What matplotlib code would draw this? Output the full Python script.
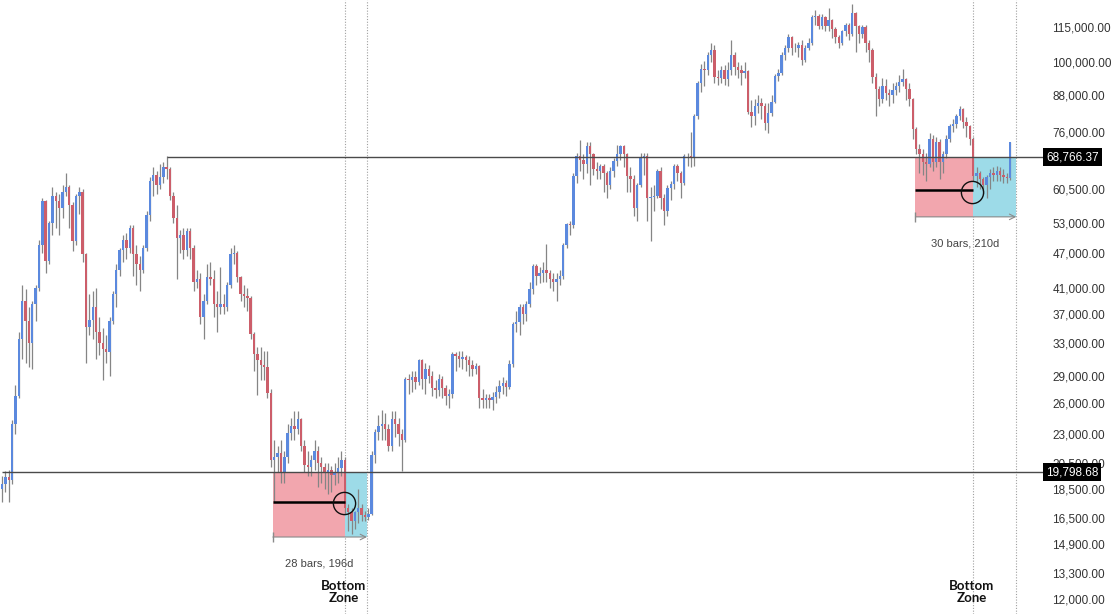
import matplotlib
matplotlib.use("Agg")
import matplotlib.pyplot as plt
import matplotlib.transforms as mtransforms
from matplotlib.patches import Rectangle
from matplotlib.ticker import FixedLocator, NullLocator

# WEEKLY CANDLES (thousands USD)
first_open = 18.5
closes = [
    18.9, 19.4, 19.2, 24.0, 26.8, 33.5, 39.0, 36.0, 33.0, 38.5,
    41.0, 48.6, 57.8, 45.7, 52.9, 58.9, 57.8, 56.2, 60.0, 61.0,
    56.8, 49.4, 59.0, 60.0, 46.8, 35.2, 36.2, 38.0, 34.5, 33.0,
    32.2, 31.8, 36.0, 40.0, 44.0, 47.6, 49.5, 48.0, 52.0, 46.8,
    45.0, 44.0, 48.0, 54.6, 62.5, 64.0, 61.5, 63.5, 66.0, 65.5,
    59.0, 54.0, 50.0, 50.5, 47.6, 51.3, 48.0, 42.0, 42.5, 36.6,
    39.0, 42.8, 42.5, 38.5, 38.0, 38.5, 38.0, 41.5, 46.8, 47.0,
    42.8, 40.0, 39.7, 39.4, 34.2, 31.6, 30.9, 30.3, 30.0, 27.1,
    20.8, 21.0, 21.4, 19.8, 21.0, 23.1, 23.8, 23.5, 24.4, 22.0,
    20.4, 20.2, 20.8, 21.5, 20.5, 20.2, 19.8, 20.0, 19.6, 19.8,
    20.1, 20.8, 17.2, 16.9, 16.3, 16.9, 17.2, 16.7, 16.6, 16.8,
    21.2, 23.2, 23.8, 24.0, 23.5, 22.0, 24.4, 24.0, 23.0, 22.5,
    28.6, 28.5, 28.8, 28.3, 30.9, 28.6, 29.8, 29.0, 27.6, 27.4,
    28.6, 27.6, 26.8, 27.0, 31.6, 31.3, 31.0, 31.2, 30.9, 30.2,
    29.8, 30.1, 26.5, 26.3, 26.5, 26.3, 26.7, 27.2, 27.8, 28.2,
    27.7, 30.4, 35.6, 35.9, 38.0, 37.0, 38.5, 40.8, 44.8, 43.0,
    43.5, 44.0, 43.5, 42.5, 42.0, 42.5, 43.0, 48.5, 52.8, 52.5,
    63.8, 69.0, 68.0, 67.0, 71.9, 69.5, 65.7, 65.0, 66.5, 64.5,
    61.5, 65.0, 67.8, 69.5, 71.8, 69.5, 63.8, 63.0, 56.2, 61.5,
    68.4, 69.0, 58.5, 58.8, 59.0, 65.0, 58.5, 55.6, 60.8, 61.8,
    66.5, 64.5, 62.0, 69.0, 69.0, 68.5, 80.9, 92.0, 97.5, 97.0,
    103, 105, 94.5, 94.0, 97.0, 93.5, 97.0, 103, 98.0, 97.0,
    96.0, 96.5, 82.2, 81.0, 84.0, 85.0, 84.0, 78.8, 82.0, 85.5,
    94.6, 96.0, 103, 106, 110.5, 106, 106, 107, 101, 106,
    108, 119.6, 120, 115.5, 119.6, 115.5, 118, 114, 110.5, 108,
    113, 116, 112, 121.5, 115.5, 112, 115, 108, 105, 94.5,
    89.9, 86.4, 91.0, 88.7, 88.0, 89.5, 91.0, 92.5, 93.5, 90.0,
    86.4, 76.9, 71.0, 69.5, 67.5, 66.8, 73.9, 67.5, 73.0, 67.5,
    69.5, 74.0, 77.6, 78.5, 80.9, 83.0, 79.0, 77.6, 73.9, 63.8,
    64.5, 63.0, 61.5, 63.5, 64.5, 64.0, 65.0, 64.0, 63.5, 63.2,
    72.9,
]
highs = [
    19.5, 19.9, 20.0, 24.3, 28.0, 34.5, 41.5, 40.8, 38.0, 39.0,
    41.5, 49.5, 58.4, 58.0, 53.5, 61.0, 60.0, 59.5, 61.5, 64.5,
    61.5, 57.5, 59.5, 61.0, 60.5, 47.0, 40.0, 40.5, 41.0, 36.5,
    35.0, 34.0, 36.5, 40.5, 45.0, 48.0, 50.5, 51.0, 52.5, 52.5,
    48.5, 46.5, 48.5, 55.5, 63.5, 66.0, 65.0, 67.0, 67.5, 69.0,
    66.0, 60.0, 57.0, 51.5, 52.0, 52.0, 52.0, 48.5, 44.0, 43.5,
    40.0, 45.0, 45.5, 44.0, 40.5, 44.5, 40.0, 42.0, 48.0, 48.5,
    47.5, 43.0, 41.5, 41.0, 39.8, 34.5, 32.5, 32.5, 32.0, 32.0,
    27.5, 22.5, 22.0, 22.5, 21.5, 24.0, 24.5, 25.2, 25.2, 24.5,
    22.5, 21.5, 21.2, 22.5, 22.0, 21.0, 20.5, 20.5, 20.3, 20.5,
    21.0, 21.5, 21.0, 17.5, 17.2, 17.0, 18.5, 17.5, 17.0, 17.2,
    21.5, 23.5, 24.8, 25.3, 25.0, 24.0, 25.2, 25.2, 24.5, 23.5,
    28.8, 29.2, 29.5, 29.5, 31.0, 31.0, 30.5, 30.2, 29.5, 28.5,
    29.2, 29.0, 28.0, 27.5, 31.8, 31.9, 32.0, 32.0, 31.5, 31.3,
    30.8, 30.5, 30.3, 27.5, 27.0, 27.0, 27.2, 27.8, 28.5, 28.8,
    28.5, 30.8, 35.9, 37.5, 38.5, 38.5, 39.0, 42.0, 45.0, 45.0,
    44.5, 45.5, 48.7, 44.0, 43.5, 43.5, 44.0, 49.0, 53.0, 53.5,
    64.5, 70.0, 73.5, 69.5, 73.0, 73.0, 70.0, 67.5, 67.0, 67.0,
    65.0, 66.0, 68.5, 72.0, 72.0, 72.0, 70.0, 66.0, 64.0, 62.0,
    70.0, 70.0, 70.0, 61.0, 61.5, 65.5, 66.0, 59.5, 61.5, 62.5,
    67.0, 67.0, 65.0, 69.5, 70.0, 76.0, 81.5, 93.0, 99.5, 100.5,
    104, 108, 107, 97.0, 98.5, 99.0, 100, 109, 104, 100,
    99.0, 100, 97.0, 86.0, 86.5, 88.0, 87.0, 85.0, 85.0, 88.0,
    95.5, 97.5, 104, 107, 112, 111, 108, 108.5, 109, 107,
    110, 120.5, 123, 121, 121, 120, 124, 118.5, 115, 111.5,
    113.5, 117, 117, 126, 122, 116, 116, 116, 109, 106,
    96.0, 91.0, 94.0, 93.5, 90.0, 92.0, 92.5, 95.0, 97.5, 94.0,
    92.0, 87.0, 77.5, 72.5, 71.0, 70.0, 75.5, 75.0, 74.5, 74.0,
    70.5, 75.0, 78.5, 80.0, 81.5, 84.0, 83.5, 80.5, 78.0, 74.5,
    66.0, 65.0, 63.5, 64.0, 65.5, 66.0, 66.5, 66.0, 65.5, 64.5,
    73.0,
]
lows = [
    17.6, 18.3, 17.6, 18.9, 23.0, 26.5, 31.0, 30.5, 30.0, 29.8,
    36.0, 40.5, 47.0, 43.5, 45.0, 50.5, 52.0, 50.5, 54.0, 59.0,
    52.0, 47.5, 48.5, 55.0, 45.5, 30.5, 34.0, 33.5, 31.0, 31.5,
    28.5, 30.5, 29.0, 35.5, 38.0, 43.0, 45.5, 46.0, 47.0, 43.0,
    41.5, 40.5, 43.5, 47.5, 53.5, 59.0, 59.5, 60.5, 62.0, 63.0,
    58.0, 53.0, 42.5, 47.0, 46.0, 46.5, 46.0, 40.5, 41.0, 35.5,
    33.5, 38.5, 41.5, 36.5, 34.5, 37.0, 37.0, 37.5, 41.0, 45.0,
    42.0, 39.0, 38.0, 37.5, 33.5, 29.5, 26.9, 28.5, 28.5, 26.5,
    20.2, 17.6, 19.8, 19.0, 19.0, 20.5, 22.5, 22.5, 23.0, 21.5,
    19.8, 19.5, 19.5, 20.0, 18.7, 19.0, 18.5, 18.2, 18.3, 18.8,
    19.0, 19.5, 16.8, 15.7, 15.5, 15.8, 16.2, 16.3, 16.3, 16.4,
    16.7, 20.5, 22.5, 22.5, 22.5, 21.5, 21.5, 22.8, 22.0, 19.9,
    22.3, 27.0, 27.2, 27.5, 28.0, 27.5, 27.0, 28.2, 26.8, 26.5,
    26.8, 26.5, 25.8, 25.5, 26.5, 29.5, 30.0, 29.8, 29.5, 29.0,
    29.0, 29.2, 25.5, 25.5, 25.5, 25.5, 25.3, 26.0, 26.5, 27.0,
    26.8, 27.5, 30.0, 34.5, 34.0, 35.5, 36.0, 38.0, 40.0, 41.5,
    41.8, 42.0, 42.0, 41.0, 40.5, 39.0, 41.5, 42.5, 48.0, 50.5,
    52.0, 62.0, 65.0, 63.0, 64.5, 61.5, 64.0, 63.0, 63.0, 60.0,
    58.5, 60.5, 63.5, 66.5, 68.0, 66.0, 60.0, 60.0, 54.5, 53.5,
    61.0, 64.0, 53.5, 49.4, 55.5, 58.5, 56.0, 52.5, 54.5, 58.0,
    60.5, 62.5, 58.5, 61.5, 66.5, 66.0, 66.5, 80.0, 89.0, 91.0,
    95.0, 100, 92.0, 91.5, 92.0, 91.5, 91.0, 95.0, 95.0, 94.0,
    91.5, 94.0, 81.5, 77.5, 78.0, 82.0, 80.0, 76.5, 75.5, 81.0,
    85.0, 93.0, 95.0, 101, 104, 103, 104, 102, 99, 100,
    105, 107, 116, 114, 114, 113, 113, 110, 108, 106,
    107, 111, 109, 111, 104, 108, 110, 104, 100, 92.0,
    80.9, 84.0, 85.0, 86.0, 84.0, 85.0, 88.0, 89.0, 91.0, 86.0,
    84.0, 74.0, 69.5, 64.5, 64.0, 62.5, 66.0, 65.0, 66.0, 63.0,
    64.5, 68.5, 73.0, 76.0, 77.0, 79.5, 77.0, 74.5, 72.0, 62.5,
    61.0, 60.5, 59.5, 58.5, 60.5, 62.5, 62.5, 62.5, 62.0, 62.0,
    62.8,
]

# right price scale
price_ticks = [115000, 100000, 88000, 76000, 60500, 53000, 47000, 41000,
               37000, 33000, 29000, 26000, 23000, 20500, 18500, 16500,
               14900, 13300, 12000]
level_prices = [68766.37, 19798.68]
level_start_bar = [49, 0]

# bottom zones (bar index, price)
zone_start = [80.6, 271.8]
zone_split = [102.1, 289.0]
zone_bars = [28, 30]
zone_top = [19798.68, 68766.37]
zone_floor = [15330, 54300]
zone_mid = [17600, 60300]
zone_labels = ["28 bars, 196d", "30 bars, 210d"]

BLUE = "#5b89de"
RED = "#cc5e6a"
WICK = "#858585"

# BUILD OHLC
prices_c = [c * 1000 for c in closes]
prices_h = [h * 1000 for h in highs]
prices_l = [l * 1000 for l in lows]
prices_o = [first_open * 1000] + prices_c[:-1]
n = len(prices_c)

fig = plt.figure(figsize=(11.16, 6.14), dpi=100)
ax = fig.add_axes([0, 0, 1030 / 1116, 1])
ax.set_yscale("log")
ax.set_xlim(-0.6, 305.9)
ax.set_ylim(11310, 127900)

# zone boxes
for s, sp, nb, top, flo in zip(zone_start, zone_split, zone_bars, zone_top, zone_floor):
    end = s + nb
    ax.add_patch(Rectangle((s, flo), sp - s, top - flo, facecolor="#f2a6ae",
                           edgecolor="none", zorder=1))
    ax.add_patch(Rectangle((sp, flo), end - sp, top - flo, facecolor="#9ddbe8",
                           edgecolor="none", zorder=1))
    for xv in (sp, end):
        ax.axvline(xv, color="#a0a0a0", lw=0.8, ls=(0, (1, 1.5)), zorder=0.5)

# candles
for i in range(n):
    o, c, h, l = prices_o[i], prices_c[i], prices_h[i], prices_l[i]
    col = BLUE if c >= o else RED
    ax.vlines(i, l, h, color=WICK, lw=0.9, zorder=2)
    ax.bar(i, abs(c - o), bottom=min(o, c), width=0.72, color=col,
           edgecolor="none", zorder=3)

# horizontal levels
for p, sb in zip(level_prices, level_start_bar):
    ax.hlines(p, sb, 310.4, color="#4a4a4a", lw=1.0, zorder=4, clip_on=False)

# zone annotations
for s, sp, nb, flo, mid, lab in zip(zone_start, zone_split, zone_bars,
                                    zone_floor, zone_mid, zone_labels):
    end = s + nb
    ax.hlines(mid, s, sp, color="black", lw=1.8, zorder=5)
    ax.plot(sp - 0.4, mid * 0.995, marker="o", ms=16, mfc="none", mec="#111111",
            mew=1.0, zorder=6)
    ax.annotate("", xy=(end, flo), xytext=(s, flo),
                arrowprops=dict(arrowstyle="->", color="#8a8a8a", lw=0.8,
                                shrinkA=0, shrinkB=0), zorder=5)
    ax.plot(s, flo, marker="|", ms=7, color="#8a8a8a", zorder=5)
    ax.annotate(lab, xy=((s + end) / 2 - 0.3, flo), xytext=(0, -19),
                textcoords="offset points", ha="center", va="center",
                fontsize=8, color="#444444", family="Liberation Sans")
    ax.text(sp - 0.5, 12340, "Bottom\nZone", ha="center", va="center",
            fontsize=9.5, fontweight="bold", family="Lato", color="#111111",
            linespacing=0.95, zorder=6)

# price scale on the right
ax.yaxis.tick_right()
ax.yaxis.set_major_locator(FixedLocator(price_ticks))
ax.yaxis.set_minor_locator(NullLocator())
ax.set_yticklabels([f"{t:,.2f}" for t in price_ticks])
ax.tick_params(axis="y", length=0, pad=16, labelsize=8.5, labelcolor="#333333")
for lbl in ax.get_yticklabels():
    lbl.set_family("Liberation Sans")
ax.set_xticks([])
for sp_ in ax.spines.values():
    sp_.set_visible(False)

# level price tags (drawn over the scale, as on the source chart)
trans = mtransforms.blended_transform_factory(ax.transAxes, ax.transData)
for p in level_prices:
    ax.text(1.0155, p, f"{p:,.2f}", transform=trans, ha="left", va="center",
            fontsize=8.5, color="white", family="Liberation Sans", zorder=10,
            clip_on=False,
            bbox=dict(boxstyle="square,pad=0.25", facecolor="black",
                      edgecolor="none"))

fig.savefig("out.png", dpi=100)
